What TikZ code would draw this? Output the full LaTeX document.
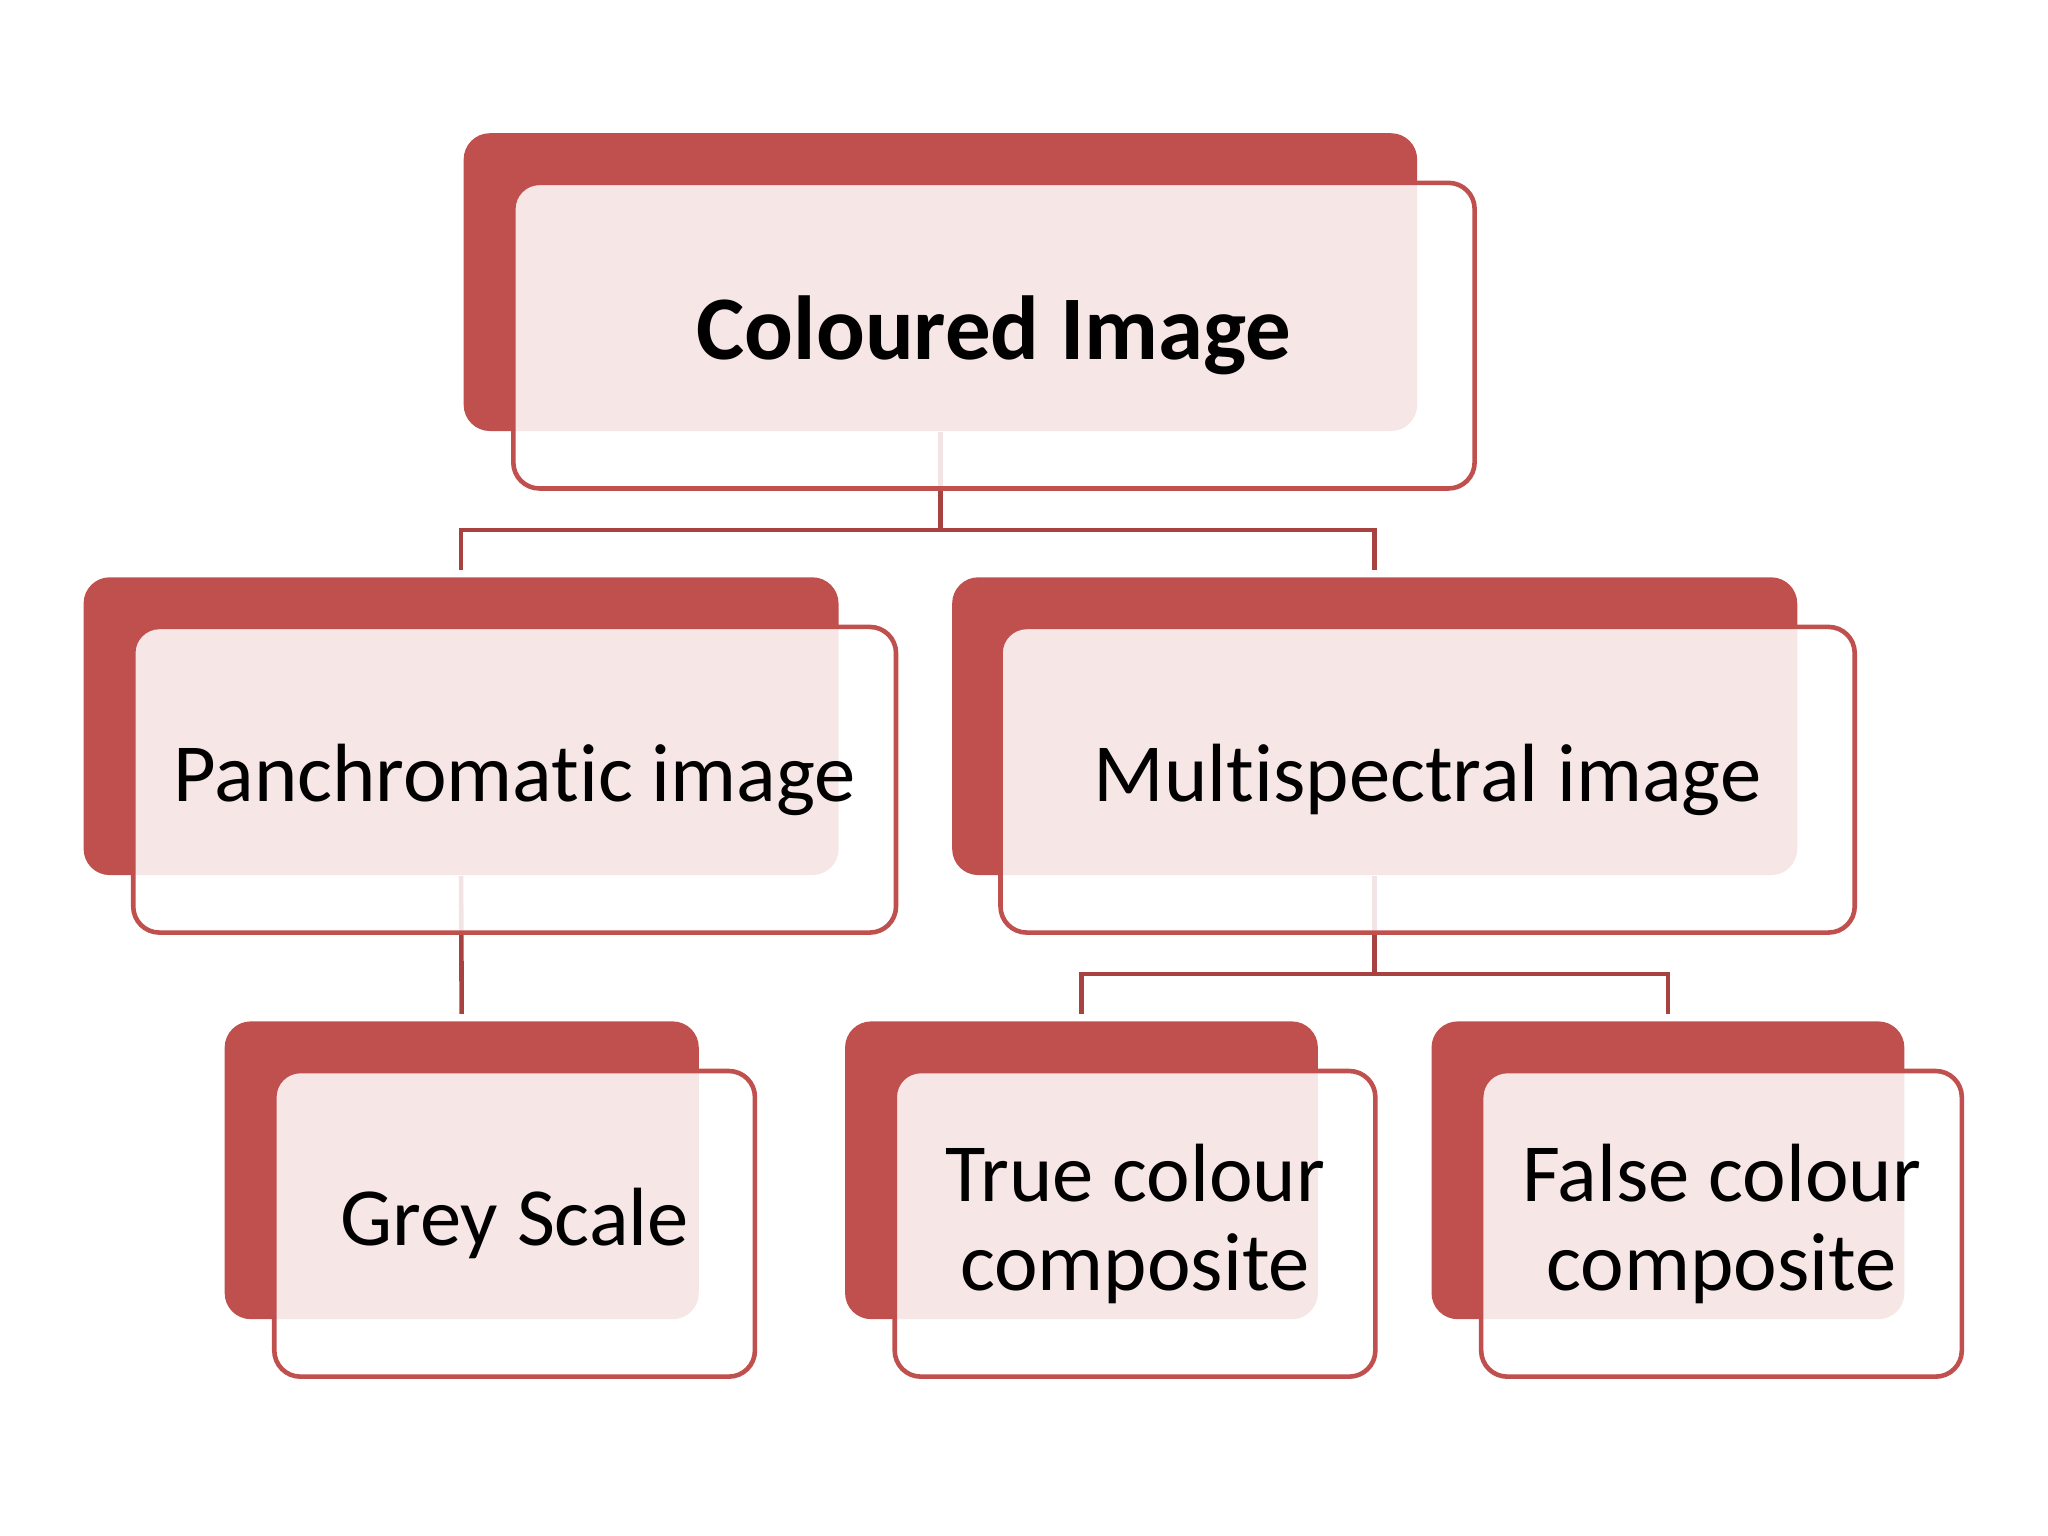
\documentclass[tikz,border=0pt]{standalone}
\usepackage{fontspec}
\setmainfont{Carlito}[Ligatures=NoCommon]
\usetikzlibrary{positioning}
\definecolor{boxred}{RGB}{192,80,77}
\definecolor{linered}{RGB}{168,66,64}
\tikzset{back/.style = {fill=boxred, rounded corners=0.2cm, minimum height=2.28cm, inner sep=0}}
\tikzset{front/.style = {draw=boxred, line width=1pt, fill=white, fill opacity=0.86, text opacity=1, rounded corners=0.2cm, minimum height=2.34cm, inner sep=0, align=center, font=\fontsize{18}{19.5}\selectfont}}
\tikzset{conn/.style = {draw=linered, line width=1pt, shorten >=0.05cm}}

\begin{document}
\begin{tikzpicture}
        \useasboundingbox (0,0) rectangle (15.68,-11.76);
        % back boxes
        \node[back, minimum width=7.30cm] (T) at (7.20,-2.16) {};
        \node[back, minimum width=5.78cm] (P) at (3.53,-5.56) {};
        \node[back, minimum width=6.47cm] (M) at (10.525,-5.56) {};
        \node[back, minimum width=3.63cm] (G) at (3.535,-8.96) {};
        \node[back, minimum width=3.62cm] (TC) at (8.28,-8.96) {};
        \node[back, minimum width=3.62cm] (FC) at (12.77,-8.96) {};
        % connectors
        \draw[conn] (T.south) -- ++(0,-0.75) -| (P.north);
        \draw[conn] (T.south) -- ++(0,-0.75) -| (M.north);
        \draw[conn] (P.south) -- (G.north);
        \draw[conn] (M.south) -- ++(0,-0.75) -| (TC.north);
        \draw[conn] (M.south) -- ++(0,-0.75) -| (FC.north);
        % front boxes
        \node[front, minimum width=7.36cm, font=\fontsize{19.8}{24}\selectfont\bfseries] (t) at (7.61,-2.57) {Coloured Image};
        \node[front, minimum width=5.84cm] (p) at (3.94,-5.97) {Panchromatic image};
        \node[front, minimum width=6.54cm] (m) at (10.93,-5.97) {Multispectral image};
        \node[front, minimum width=3.68cm] (g) at (3.94,-9.37) {Grey Scale};
        \node[front, minimum width=3.68cm] (tc) at (8.69,-9.37) {True colour\\composite};
        \node[front, minimum width=3.68cm] (fc) at (13.18,-9.37) {False colour\\composite};
    \end{tikzpicture}
\end{document}
